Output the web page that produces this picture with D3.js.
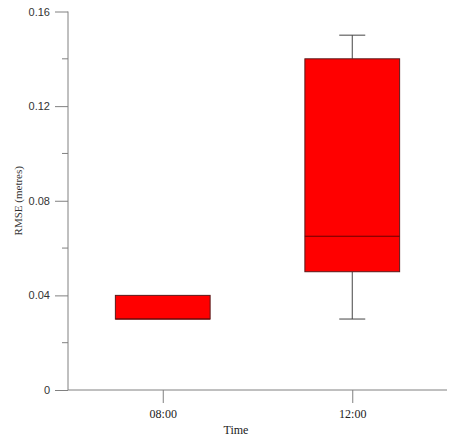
<!DOCTYPE html>
<html>
<head>
<meta charset="utf-8">
<script src="https://cdn.jsdelivr.net/npm/d3@7"></script>
<style>
  html, body { margin: 0; padding: 0; background: #fff; }
  svg { display: block; }
</style>
</head>
<body>
<svg id="chart" width="474" height="440"></svg>
<script>
const categories = ["08:00", "12:00"];
const whiskerLow = [0.03, 0.03];
const q1 = [0.03, 0.05];
const median = [0.03, 0.065];
const q3 = [0.04, 0.14];
const whiskerHigh = [0.04, 0.15];
const yTicks = [0, 0.04, 0.08, 0.12, 0.16];
const yMinorTicks = [0.02, 0.06, 0.10, 0.14];
const yLabel = "RMSE (metres)";
const xLabel = "Time";

(function () {
const svg = d3.select("#chart");
const mLeft = 68, mRight = 447, mTop = 11.5, mBottom = 390;
const axisColor = "#808080";

const x = d3.scalePoint().domain(categories).range([mLeft, mRight]).padding(0.5);
const y = d3.scaleLinear().domain([0, 0.16]).range([mBottom, mTop]);
const boxW = x.step() * 0.5;
const capW = 26;

// Y axis
const yAxis = d3.axisLeft(y).tickValues(yTicks).tickSize(13).tickPadding(5)
  .tickFormat(d => d === 0 ? "0" : d3.format(".2f")(d));
const gy = svg.append("g").attr("transform", `translate(${mLeft},0)`).call(yAxis);
gy.select(".domain").attr("stroke", axisColor).attr("d", `M0,${mTop}V${mBottom}`);
gy.selectAll(".tick line").attr("stroke", axisColor);
gy.selectAll(".tick text").attr("font-family", "Liberation Sans, Arial, sans-serif")
  .attr("font-size", 11).attr("fill", "#333");
svg.append("g").selectAll("line").data(yMinorTicks).join("line")
  .attr("x1", mLeft - 6).attr("x2", mLeft).attr("y1", d => y(d)).attr("y2", d => y(d))
  .attr("stroke", axisColor);

// X axis
const xAxis = d3.axisBottom(x).tickSize(13).tickPadding(6);
const gx = svg.append("g").attr("transform", `translate(0,${mBottom})`).call(xAxis);
gx.select(".domain").attr("stroke", axisColor).attr("d", `M${mLeft},0H${mRight}`);
gx.selectAll(".tick line").attr("stroke", axisColor);
gx.selectAll(".tick text").attr("font-family", "Liberation Serif, Times New Roman, serif")
  .attr("font-size", 12).attr("fill", "#222");

// Labels
svg.append("text").attr("x", 236).attr("y", 434).attr("text-anchor", "middle")
  .attr("font-family", "Liberation Serif, Times New Roman, serif").attr("font-size", 12)
  .attr("fill", "#222").text(xLabel);
svg.append("text").attr("transform", `translate(22,${y(0.08)}) rotate(-90)`)
  .attr("text-anchor", "middle")
  .attr("font-family", "Liberation Serif, Times New Roman, serif").attr("font-size", 11)
  .attr("fill", "#333").text(yLabel);

// Boxes
const data = categories.map((c, i) => ({ c, lo: whiskerLow[i], q1: q1[i], med: median[i], q3: q3[i], hi: whiskerHigh[i] }));
const g = svg.append("g").selectAll("g").data(data).join("g");
const whiskerColor = "#444";
g.filter(d => d.hi > d.q3).append("line")
  .attr("x1", d => x(d.c)).attr("x2", d => x(d.c)).attr("y1", d => y(d.hi)).attr("y2", d => y(d.q3))
  .attr("stroke", whiskerColor);
g.filter(d => d.hi > d.q3).append("line")
  .attr("x1", d => x(d.c) - capW / 2).attr("x2", d => x(d.c) + capW / 2).attr("y1", d => y(d.hi)).attr("y2", d => y(d.hi))
  .attr("stroke", whiskerColor);
g.filter(d => d.lo < d.q1).append("line")
  .attr("x1", d => x(d.c)).attr("x2", d => x(d.c)).attr("y1", d => y(d.q1)).attr("y2", d => y(d.lo))
  .attr("stroke", whiskerColor);
g.filter(d => d.lo < d.q1).append("line")
  .attr("x1", d => x(d.c) - capW / 2).attr("x2", d => x(d.c) + capW / 2).attr("y1", d => y(d.lo)).attr("y2", d => y(d.lo))
  .attr("stroke", whiskerColor);
g.append("rect")
  .attr("x", d => x(d.c) - boxW / 2).attr("width", boxW)
  .attr("y", d => y(d.q3)).attr("height", d => y(d.q1) - y(d.q3))
  .attr("fill", "#ff0000").attr("stroke", "#5a1a1a").attr("stroke-width", 1);
g.append("line")
  .attr("x1", d => x(d.c) - boxW / 2).attr("x2", d => x(d.c) + boxW / 2)
  .attr("y1", d => y(d.med)).attr("y2", d => y(d.med))
  .attr("stroke", "#6a0000").attr("stroke-width", 1);
})();
</script>
</body>
</html>
